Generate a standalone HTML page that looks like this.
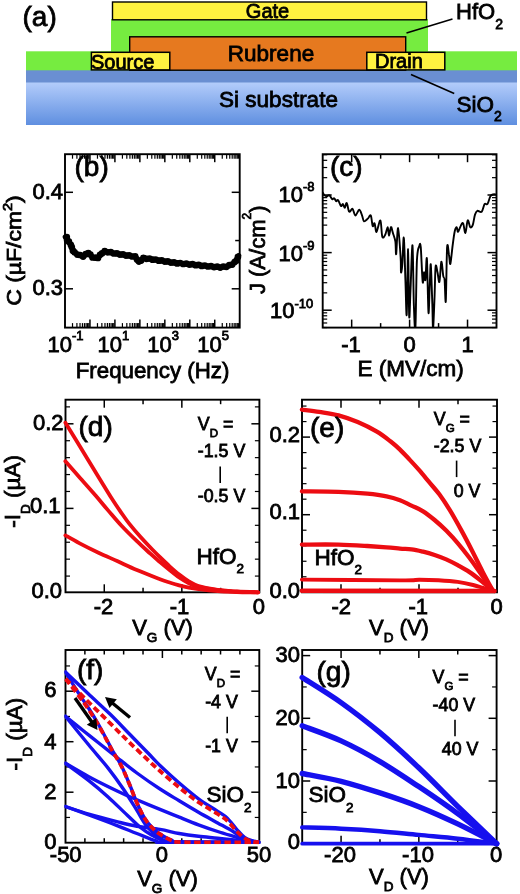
<!DOCTYPE html>
<html><head><meta charset="utf-8"><title>Figure</title>
<style>html,body{margin:0;padding:0;background:#fff}svg{display:block}text{stroke:#000;stroke-width:0.8px;font-family:'Liberation Sans', Arial, Helvetica, sans-serif}</style>
</head><body>
<svg width="520" height="894" viewBox="0 0 520 894">
<rect width="520" height="894" fill="#fff"/>
<defs><linearGradient id="si" x1="0" y1="0" x2="0" y2="1"><stop offset="0" stop-color="#b4cdfb"/><stop offset="1" stop-color="#5f8fe0"/></linearGradient></defs>
<rect x="26" y="82" width="491" height="43" fill="url(#si)"/>
<rect x="26" y="70" width="491" height="12.5" fill="#6a8fd2"/>
<rect x="26" y="51.3" width="491" height="19" fill="#76ec40"/>
<rect x="111" y="19" width="317" height="33" fill="#76ec40"/>
<rect x="129.7" y="36.8" width="276" height="33.4" fill="#e6791f" stroke="#000" stroke-width="1.4"/>
<rect x="112.5" y="2" width="314" height="17.8" fill="#fff240" stroke="#000" stroke-width="1.4"/>
<rect x="91.4" y="52.3" width="78.4" height="17.6" fill="#fff240" stroke="#000" stroke-width="1.5"/>
<rect x="366.8" y="52.3" width="78" height="17.6" fill="#fff240" stroke="#000" stroke-width="1.5"/>
<text transform="translate(22.50,26.00)" font-size="28" text-anchor="start" fill="#000" >(a)</text>
<text transform="translate(267.50,18.20)" font-size="20" text-anchor="middle" fill="#000" >Gate</text>
<text transform="translate(91.00,68.80)" font-size="20" text-anchor="start" fill="#000" >Source</text>
<text transform="translate(375.00,67.80)" font-size="20" text-anchor="start" fill="#000" >Drain</text>
<text transform="translate(271.00,60.80)" font-size="22.5" text-anchor="middle" fill="#000" >Rubrene</text>
<text transform="translate(278.50,106.80)" font-size="22.5" text-anchor="middle" fill="#000" >Si substrate</text>
<text transform="translate(456.00,19.00)" font-size="22" text-anchor="start" fill="#000" >HfO<tspan font-size="14" dy="9.5" >2</tspan></text>
<text transform="translate(456.50,111.50)" font-size="22.5" text-anchor="start" fill="#000" >SiO<tspan font-size="14" dy="9.5" >2</tspan></text>
<line x1="406.50" y1="33.00" x2="452.50" y2="19.00" stroke="#000" stroke-width="1.6" />
<line x1="411.00" y1="74.40" x2="454.20" y2="93.50" stroke="#000" stroke-width="1.6" />
<polyline points="65.3,237.0 67.8,240.6 70.7,244.2 73.5,252.0 77.8,254.5 83.0,256.3 88.5,252.7 92.7,257.4 97.4,258.4 101.0,253.8 104.5,251.3 113.4,253.1 124.0,254.9 135.4,256.7 139.0,262.0 143.6,258.0 156.0,259.9 173.9,262.7 191.7,264.5 209.5,266.3 220.0,267.3 227.3,266.3 232.6,264.1 236.2,260.9 238.7,255.6" fill="none" stroke="#000" stroke-width="5.2" stroke-linejoin="round" stroke-linecap="round" />
<circle cx="67.1" cy="239.9" r="3.35" fill="#000"/>
<circle cx="68.9" cy="241.7" r="3.35" fill="#000"/>
<circle cx="70.8" cy="244.8" r="3.35" fill="#000"/>
<circle cx="71.8" cy="247.0" r="3.35" fill="#000"/>
<circle cx="72.9" cy="250.7" r="3.35" fill="#000"/>
<circle cx="74.6" cy="252.3" r="3.35" fill="#000"/>
<circle cx="77.3" cy="254.6" r="3.35" fill="#000"/>
<circle cx="80.2" cy="255.0" r="3.35" fill="#000"/>
<circle cx="83.1" cy="256.6" r="3.35" fill="#000"/>
<circle cx="85.7" cy="254.2" r="3.35" fill="#000"/>
<circle cx="88.3" cy="253.2" r="3.35" fill="#000"/>
<circle cx="90.4" cy="254.5" r="3.35" fill="#000"/>
<circle cx="92.5" cy="257.5" r="3.35" fill="#000"/>
<circle cx="95.4" cy="257.6" r="3.35" fill="#000"/>
<circle cx="98.0" cy="257.9" r="3.35" fill="#000"/>
<circle cx="100.0" cy="254.8" r="3.35" fill="#000"/>
<circle cx="102.1" cy="253.3" r="3.35" fill="#000"/>
<circle cx="104.7" cy="251.0" r="3.35" fill="#000"/>
<circle cx="107.7" cy="252.3" r="3.35" fill="#000"/>
<circle cx="110.8" cy="252.2" r="3.35" fill="#000"/>
<circle cx="113.8" cy="253.5" r="3.35" fill="#000"/>
<circle cx="116.9" cy="253.3" r="3.35" fill="#000"/>
<circle cx="119.9" cy="254.6" r="3.35" fill="#000"/>
<circle cx="123.0" cy="254.4" r="3.35" fill="#000"/>
<circle cx="126.0" cy="255.6" r="3.35" fill="#000"/>
<circle cx="129.1" cy="255.4" r="3.35" fill="#000"/>
<circle cx="132.2" cy="256.5" r="3.35" fill="#000"/>
<circle cx="135.2" cy="256.3" r="3.35" fill="#000"/>
<circle cx="137.0" cy="259.5" r="3.35" fill="#000"/>
<circle cx="138.8" cy="261.3" r="3.35" fill="#000"/>
<circle cx="141.1" cy="260.6" r="3.35" fill="#000"/>
<circle cx="143.4" cy="257.8" r="3.35" fill="#000"/>
<circle cx="146.4" cy="258.8" r="3.35" fill="#000"/>
<circle cx="149.5" cy="258.5" r="3.35" fill="#000"/>
<circle cx="152.5" cy="259.7" r="3.35" fill="#000"/>
<circle cx="155.6" cy="259.5" r="3.35" fill="#000"/>
<circle cx="158.7" cy="260.7" r="3.35" fill="#000"/>
<circle cx="161.7" cy="260.4" r="3.35" fill="#000"/>
<circle cx="164.8" cy="261.6" r="3.35" fill="#000"/>
<circle cx="167.8" cy="261.4" r="3.35" fill="#000"/>
<circle cx="170.9" cy="262.6" r="3.35" fill="#000"/>
<circle cx="174.0" cy="262.4" r="3.35" fill="#000"/>
<circle cx="177.1" cy="263.4" r="3.35" fill="#000"/>
<circle cx="180.1" cy="263.0" r="3.35" fill="#000"/>
<circle cx="183.2" cy="264.0" r="3.35" fill="#000"/>
<circle cx="186.3" cy="263.6" r="3.35" fill="#000"/>
<circle cx="189.4" cy="264.6" r="3.35" fill="#000"/>
<circle cx="192.5" cy="264.2" r="3.35" fill="#000"/>
<circle cx="195.6" cy="265.2" r="3.35" fill="#000"/>
<circle cx="198.6" cy="264.9" r="3.35" fill="#000"/>
<circle cx="201.7" cy="265.9" r="3.35" fill="#000"/>
<circle cx="204.8" cy="265.5" r="3.35" fill="#000"/>
<circle cx="207.9" cy="266.5" r="3.35" fill="#000"/>
<circle cx="211.0" cy="266.1" r="3.35" fill="#000"/>
<circle cx="214.1" cy="267.1" r="3.35" fill="#000"/>
<circle cx="217.2" cy="266.7" r="3.35" fill="#000"/>
<circle cx="220.2" cy="267.6" r="3.35" fill="#000"/>
<circle cx="223.3" cy="266.5" r="3.35" fill="#000"/>
<circle cx="226.4" cy="266.8" r="3.35" fill="#000"/>
<circle cx="229.3" cy="265.1" r="3.35" fill="#000"/>
<circle cx="232.2" cy="264.6" r="3.35" fill="#000"/>
<circle cx="234.6" cy="262.0" r="3.35" fill="#000"/>
<circle cx="236.6" cy="260.4" r="3.35" fill="#000"/>
<circle cx="237.9" cy="256.9" r="3.35" fill="#000"/>
<circle cx="66.8" cy="237.0" r="3.35" fill="#000"/>
<rect x="65" y="154.2" width="174.7" height="173.40000000000003" fill="none" stroke="#000" stroke-width="1.9"/>
<line x1="89.96" y1="327.60" x2="89.96" y2="319.60" stroke="#000" stroke-width="1.5" />
<line x1="89.96" y1="154.20" x2="89.96" y2="162.20" stroke="#000" stroke-width="1.5" />
<line x1="114.91" y1="327.60" x2="114.91" y2="319.60" stroke="#000" stroke-width="1.5" />
<line x1="114.91" y1="154.20" x2="114.91" y2="162.20" stroke="#000" stroke-width="1.5" />
<line x1="139.87" y1="327.60" x2="139.87" y2="319.60" stroke="#000" stroke-width="1.5" />
<line x1="139.87" y1="154.20" x2="139.87" y2="162.20" stroke="#000" stroke-width="1.5" />
<line x1="164.83" y1="327.60" x2="164.83" y2="319.60" stroke="#000" stroke-width="1.5" />
<line x1="164.83" y1="154.20" x2="164.83" y2="162.20" stroke="#000" stroke-width="1.5" />
<line x1="189.79" y1="327.60" x2="189.79" y2="319.60" stroke="#000" stroke-width="1.5" />
<line x1="189.79" y1="154.20" x2="189.79" y2="162.20" stroke="#000" stroke-width="1.5" />
<line x1="214.74" y1="327.60" x2="214.74" y2="319.60" stroke="#000" stroke-width="1.5" />
<line x1="214.74" y1="154.20" x2="214.74" y2="162.20" stroke="#000" stroke-width="1.5" />
<line x1="72.51" y1="327.60" x2="72.51" y2="323.10" stroke="#000" stroke-width="1.2" />
<line x1="72.51" y1="154.20" x2="72.51" y2="158.70" stroke="#000" stroke-width="1.2" />
<line x1="76.91" y1="327.60" x2="76.91" y2="323.10" stroke="#000" stroke-width="1.2" />
<line x1="76.91" y1="154.20" x2="76.91" y2="158.70" stroke="#000" stroke-width="1.2" />
<line x1="80.03" y1="327.60" x2="80.03" y2="323.10" stroke="#000" stroke-width="1.2" />
<line x1="80.03" y1="154.20" x2="80.03" y2="158.70" stroke="#000" stroke-width="1.2" />
<line x1="82.44" y1="327.60" x2="82.44" y2="323.10" stroke="#000" stroke-width="1.2" />
<line x1="82.44" y1="154.20" x2="82.44" y2="158.70" stroke="#000" stroke-width="1.2" />
<line x1="84.42" y1="327.60" x2="84.42" y2="323.10" stroke="#000" stroke-width="1.2" />
<line x1="84.42" y1="154.20" x2="84.42" y2="158.70" stroke="#000" stroke-width="1.2" />
<line x1="86.09" y1="327.60" x2="86.09" y2="323.10" stroke="#000" stroke-width="1.2" />
<line x1="86.09" y1="154.20" x2="86.09" y2="158.70" stroke="#000" stroke-width="1.2" />
<line x1="87.54" y1="327.60" x2="87.54" y2="323.10" stroke="#000" stroke-width="1.2" />
<line x1="87.54" y1="154.20" x2="87.54" y2="158.70" stroke="#000" stroke-width="1.2" />
<line x1="88.82" y1="327.60" x2="88.82" y2="323.10" stroke="#000" stroke-width="1.2" />
<line x1="88.82" y1="154.20" x2="88.82" y2="158.70" stroke="#000" stroke-width="1.2" />
<line x1="97.47" y1="327.60" x2="97.47" y2="323.10" stroke="#000" stroke-width="1.2" />
<line x1="97.47" y1="154.20" x2="97.47" y2="158.70" stroke="#000" stroke-width="1.2" />
<line x1="101.86" y1="327.60" x2="101.86" y2="323.10" stroke="#000" stroke-width="1.2" />
<line x1="101.86" y1="154.20" x2="101.86" y2="158.70" stroke="#000" stroke-width="1.2" />
<line x1="104.98" y1="327.60" x2="104.98" y2="323.10" stroke="#000" stroke-width="1.2" />
<line x1="104.98" y1="154.20" x2="104.98" y2="158.70" stroke="#000" stroke-width="1.2" />
<line x1="107.40" y1="327.60" x2="107.40" y2="323.10" stroke="#000" stroke-width="1.2" />
<line x1="107.40" y1="154.20" x2="107.40" y2="158.70" stroke="#000" stroke-width="1.2" />
<line x1="109.38" y1="327.60" x2="109.38" y2="323.10" stroke="#000" stroke-width="1.2" />
<line x1="109.38" y1="154.20" x2="109.38" y2="158.70" stroke="#000" stroke-width="1.2" />
<line x1="111.05" y1="327.60" x2="111.05" y2="323.10" stroke="#000" stroke-width="1.2" />
<line x1="111.05" y1="154.20" x2="111.05" y2="158.70" stroke="#000" stroke-width="1.2" />
<line x1="112.50" y1="327.60" x2="112.50" y2="323.10" stroke="#000" stroke-width="1.2" />
<line x1="112.50" y1="154.20" x2="112.50" y2="158.70" stroke="#000" stroke-width="1.2" />
<line x1="113.77" y1="327.60" x2="113.77" y2="323.10" stroke="#000" stroke-width="1.2" />
<line x1="113.77" y1="154.20" x2="113.77" y2="158.70" stroke="#000" stroke-width="1.2" />
<line x1="122.43" y1="327.60" x2="122.43" y2="323.10" stroke="#000" stroke-width="1.2" />
<line x1="122.43" y1="154.20" x2="122.43" y2="158.70" stroke="#000" stroke-width="1.2" />
<line x1="126.82" y1="327.60" x2="126.82" y2="323.10" stroke="#000" stroke-width="1.2" />
<line x1="126.82" y1="154.20" x2="126.82" y2="158.70" stroke="#000" stroke-width="1.2" />
<line x1="129.94" y1="327.60" x2="129.94" y2="323.10" stroke="#000" stroke-width="1.2" />
<line x1="129.94" y1="154.20" x2="129.94" y2="158.70" stroke="#000" stroke-width="1.2" />
<line x1="132.36" y1="327.60" x2="132.36" y2="323.10" stroke="#000" stroke-width="1.2" />
<line x1="132.36" y1="154.20" x2="132.36" y2="158.70" stroke="#000" stroke-width="1.2" />
<line x1="134.33" y1="327.60" x2="134.33" y2="323.10" stroke="#000" stroke-width="1.2" />
<line x1="134.33" y1="154.20" x2="134.33" y2="158.70" stroke="#000" stroke-width="1.2" />
<line x1="136.01" y1="327.60" x2="136.01" y2="323.10" stroke="#000" stroke-width="1.2" />
<line x1="136.01" y1="154.20" x2="136.01" y2="158.70" stroke="#000" stroke-width="1.2" />
<line x1="137.45" y1="327.60" x2="137.45" y2="323.10" stroke="#000" stroke-width="1.2" />
<line x1="137.45" y1="154.20" x2="137.45" y2="158.70" stroke="#000" stroke-width="1.2" />
<line x1="138.73" y1="327.60" x2="138.73" y2="323.10" stroke="#000" stroke-width="1.2" />
<line x1="138.73" y1="154.20" x2="138.73" y2="158.70" stroke="#000" stroke-width="1.2" />
<line x1="147.38" y1="327.60" x2="147.38" y2="323.10" stroke="#000" stroke-width="1.2" />
<line x1="147.38" y1="154.20" x2="147.38" y2="158.70" stroke="#000" stroke-width="1.2" />
<line x1="151.78" y1="327.60" x2="151.78" y2="323.10" stroke="#000" stroke-width="1.2" />
<line x1="151.78" y1="154.20" x2="151.78" y2="158.70" stroke="#000" stroke-width="1.2" />
<line x1="154.90" y1="327.60" x2="154.90" y2="323.10" stroke="#000" stroke-width="1.2" />
<line x1="154.90" y1="154.20" x2="154.90" y2="158.70" stroke="#000" stroke-width="1.2" />
<line x1="157.32" y1="327.60" x2="157.32" y2="323.10" stroke="#000" stroke-width="1.2" />
<line x1="157.32" y1="154.20" x2="157.32" y2="158.70" stroke="#000" stroke-width="1.2" />
<line x1="159.29" y1="327.60" x2="159.29" y2="323.10" stroke="#000" stroke-width="1.2" />
<line x1="159.29" y1="154.20" x2="159.29" y2="158.70" stroke="#000" stroke-width="1.2" />
<line x1="160.96" y1="327.60" x2="160.96" y2="323.10" stroke="#000" stroke-width="1.2" />
<line x1="160.96" y1="154.20" x2="160.96" y2="158.70" stroke="#000" stroke-width="1.2" />
<line x1="162.41" y1="327.60" x2="162.41" y2="323.10" stroke="#000" stroke-width="1.2" />
<line x1="162.41" y1="154.20" x2="162.41" y2="158.70" stroke="#000" stroke-width="1.2" />
<line x1="163.69" y1="327.60" x2="163.69" y2="323.10" stroke="#000" stroke-width="1.2" />
<line x1="163.69" y1="154.20" x2="163.69" y2="158.70" stroke="#000" stroke-width="1.2" />
<line x1="172.34" y1="327.60" x2="172.34" y2="323.10" stroke="#000" stroke-width="1.2" />
<line x1="172.34" y1="154.20" x2="172.34" y2="158.70" stroke="#000" stroke-width="1.2" />
<line x1="176.74" y1="327.60" x2="176.74" y2="323.10" stroke="#000" stroke-width="1.2" />
<line x1="176.74" y1="154.20" x2="176.74" y2="158.70" stroke="#000" stroke-width="1.2" />
<line x1="179.85" y1="327.60" x2="179.85" y2="323.10" stroke="#000" stroke-width="1.2" />
<line x1="179.85" y1="154.20" x2="179.85" y2="158.70" stroke="#000" stroke-width="1.2" />
<line x1="182.27" y1="327.60" x2="182.27" y2="323.10" stroke="#000" stroke-width="1.2" />
<line x1="182.27" y1="154.20" x2="182.27" y2="158.70" stroke="#000" stroke-width="1.2" />
<line x1="184.25" y1="327.60" x2="184.25" y2="323.10" stroke="#000" stroke-width="1.2" />
<line x1="184.25" y1="154.20" x2="184.25" y2="158.70" stroke="#000" stroke-width="1.2" />
<line x1="185.92" y1="327.60" x2="185.92" y2="323.10" stroke="#000" stroke-width="1.2" />
<line x1="185.92" y1="154.20" x2="185.92" y2="158.70" stroke="#000" stroke-width="1.2" />
<line x1="187.37" y1="327.60" x2="187.37" y2="323.10" stroke="#000" stroke-width="1.2" />
<line x1="187.37" y1="154.20" x2="187.37" y2="158.70" stroke="#000" stroke-width="1.2" />
<line x1="188.64" y1="327.60" x2="188.64" y2="323.10" stroke="#000" stroke-width="1.2" />
<line x1="188.64" y1="154.20" x2="188.64" y2="158.70" stroke="#000" stroke-width="1.2" />
<line x1="197.30" y1="327.60" x2="197.30" y2="323.10" stroke="#000" stroke-width="1.2" />
<line x1="197.30" y1="154.20" x2="197.30" y2="158.70" stroke="#000" stroke-width="1.2" />
<line x1="201.69" y1="327.60" x2="201.69" y2="323.10" stroke="#000" stroke-width="1.2" />
<line x1="201.69" y1="154.20" x2="201.69" y2="158.70" stroke="#000" stroke-width="1.2" />
<line x1="204.81" y1="327.60" x2="204.81" y2="323.10" stroke="#000" stroke-width="1.2" />
<line x1="204.81" y1="154.20" x2="204.81" y2="158.70" stroke="#000" stroke-width="1.2" />
<line x1="207.23" y1="327.60" x2="207.23" y2="323.10" stroke="#000" stroke-width="1.2" />
<line x1="207.23" y1="154.20" x2="207.23" y2="158.70" stroke="#000" stroke-width="1.2" />
<line x1="209.21" y1="327.60" x2="209.21" y2="323.10" stroke="#000" stroke-width="1.2" />
<line x1="209.21" y1="154.20" x2="209.21" y2="158.70" stroke="#000" stroke-width="1.2" />
<line x1="210.88" y1="327.60" x2="210.88" y2="323.10" stroke="#000" stroke-width="1.2" />
<line x1="210.88" y1="154.20" x2="210.88" y2="158.70" stroke="#000" stroke-width="1.2" />
<line x1="212.32" y1="327.60" x2="212.32" y2="323.10" stroke="#000" stroke-width="1.2" />
<line x1="212.32" y1="154.20" x2="212.32" y2="158.70" stroke="#000" stroke-width="1.2" />
<line x1="213.60" y1="327.60" x2="213.60" y2="323.10" stroke="#000" stroke-width="1.2" />
<line x1="213.60" y1="154.20" x2="213.60" y2="158.70" stroke="#000" stroke-width="1.2" />
<line x1="222.26" y1="327.60" x2="222.26" y2="323.10" stroke="#000" stroke-width="1.2" />
<line x1="222.26" y1="154.20" x2="222.26" y2="158.70" stroke="#000" stroke-width="1.2" />
<line x1="226.65" y1="327.60" x2="226.65" y2="323.10" stroke="#000" stroke-width="1.2" />
<line x1="226.65" y1="154.20" x2="226.65" y2="158.70" stroke="#000" stroke-width="1.2" />
<line x1="229.77" y1="327.60" x2="229.77" y2="323.10" stroke="#000" stroke-width="1.2" />
<line x1="229.77" y1="154.20" x2="229.77" y2="158.70" stroke="#000" stroke-width="1.2" />
<line x1="232.19" y1="327.60" x2="232.19" y2="323.10" stroke="#000" stroke-width="1.2" />
<line x1="232.19" y1="154.20" x2="232.19" y2="158.70" stroke="#000" stroke-width="1.2" />
<line x1="234.16" y1="327.60" x2="234.16" y2="323.10" stroke="#000" stroke-width="1.2" />
<line x1="234.16" y1="154.20" x2="234.16" y2="158.70" stroke="#000" stroke-width="1.2" />
<line x1="235.83" y1="327.60" x2="235.83" y2="323.10" stroke="#000" stroke-width="1.2" />
<line x1="235.83" y1="154.20" x2="235.83" y2="158.70" stroke="#000" stroke-width="1.2" />
<line x1="237.28" y1="327.60" x2="237.28" y2="323.10" stroke="#000" stroke-width="1.2" />
<line x1="237.28" y1="154.20" x2="237.28" y2="158.70" stroke="#000" stroke-width="1.2" />
<line x1="238.56" y1="327.60" x2="238.56" y2="323.10" stroke="#000" stroke-width="1.2" />
<line x1="238.56" y1="154.20" x2="238.56" y2="158.70" stroke="#000" stroke-width="1.2" />
<line x1="65.00" y1="192.30" x2="73.00" y2="192.30" stroke="#000" stroke-width="1.5" />
<line x1="239.70" y1="192.30" x2="231.70" y2="192.30" stroke="#000" stroke-width="1.5" />
<line x1="65.00" y1="288.80" x2="73.00" y2="288.80" stroke="#000" stroke-width="1.5" />
<line x1="239.70" y1="288.80" x2="231.70" y2="288.80" stroke="#000" stroke-width="1.5" />
<line x1="65.00" y1="240.55" x2="69.50" y2="240.55" stroke="#000" stroke-width="1.5" />
<line x1="239.70" y1="240.55" x2="235.20" y2="240.55" stroke="#000" stroke-width="1.5" />
<text transform="translate(63.00,198.80)" font-size="22" text-anchor="end" fill="#000" >0.4</text>
<text transform="translate(63.00,295.30)" font-size="22" text-anchor="end" fill="#000" >0.3</text>
<text transform="translate(47.50,351.60)" font-size="22" text-anchor="start" fill="#000" >10<tspan font-size="13" dy="-12">-1</tspan></text>
<text transform="translate(97.41,351.60)" font-size="22" text-anchor="start" fill="#000" >10<tspan font-size="13" dy="-12">1</tspan></text>
<text transform="translate(147.33,351.60)" font-size="22" text-anchor="start" fill="#000" >10<tspan font-size="13" dy="-12">3</tspan></text>
<text transform="translate(197.24,351.60)" font-size="22" text-anchor="start" fill="#000" >10<tspan font-size="13" dy="-12">5</tspan></text>
<text transform="translate(152.50,378.20)" font-size="22.3" text-anchor="middle" fill="#000" >Frequency (Hz)</text>
<text transform="translate(20.60,250.50) rotate(-90) scale(1.12,1)" font-size="20.5" text-anchor="middle" fill="#000" >C (µF/cm<tspan font-size="13" dy="-9">2</tspan><tspan font-size="20.5" dy="9">)</tspan></text>
<text transform="translate(74.50,175.50)" font-size="28" text-anchor="start" fill="#000" >(b)</text>
<clipPath id="cc"><rect x="322.7" y="154.2" width="173.8" height="173.40000000000003"/></clipPath>
<path d="M322.7,192.5 C323.0,193.0 324.0,194.7 324.6,195.4 C325.3,196.0 325.7,196.3 326.5,196.3 C327.3,196.3 328.5,194.9 329.4,195.4 C330.4,195.9 331.5,198.8 332.3,199.2 C333.1,199.7 333.6,197.9 334.2,198.3 C334.9,198.6 335.5,200.8 336.2,201.2 C336.8,201.5 337.3,199.4 338.1,200.2 C338.9,201.0 340.2,205.3 341.0,206.0 C341.8,206.6 342.2,203.7 342.9,204.0 C343.5,204.4 344.2,208.0 344.8,207.9 C345.4,207.7 346.0,202.4 346.7,203.1 C347.5,203.7 348.3,210.8 349.2,211.7 C350.2,212.7 351.5,208.2 352.5,208.8 C353.5,209.5 354.3,215.4 355.4,215.6 C356.5,215.7 358.1,209.8 359.2,209.8 C360.4,209.8 361.3,213.7 362.1,215.6 C362.9,217.5 363.1,220.9 364.0,221.3 C365.0,221.8 366.8,219.4 367.9,218.5 C369.0,217.5 370.0,214.3 370.8,215.6 C371.6,216.9 372.1,224.9 372.7,226.2 C373.3,227.4 374.0,222.3 374.6,223.3 C375.3,224.2 375.6,232.4 376.5,231.9 C377.5,231.4 379.4,219.6 380.4,220.4 C381.3,221.2 381.5,234.3 382.3,236.7 C383.1,239.1 384.3,236.4 385.2,234.8 C386.1,233.2 387.1,227.0 387.7,227.1 C388.3,227.3 388.5,235.8 389.0,235.8 C389.6,235.8 390.3,227.6 391.0,227.1 C391.6,226.6 392.1,230.5 392.9,232.9 C393.6,235.3 394.8,238.0 395.4,241.5 C395.9,245.1 395.7,256.3 396.2,254.0 C396.6,251.8 397.3,227.6 398.1,228.1 C398.8,228.6 400.1,249.6 400.6,256.9 C401.1,264.3 400.7,271.0 401.0,272.3 C401.2,273.6 401.8,270.4 402.3,264.6 C402.8,258.8 403.3,235.1 403.8,237.7 C404.4,240.3 404.9,267.2 405.4,280.0 C405.9,292.8 406.3,319.7 406.7,314.6 C407.2,309.5 407.7,248.9 408.1,249.2 C408.5,249.6 408.8,310.1 409.2,316.5 C409.6,322.9 410.0,299.6 410.6,287.7 C411.1,275.8 412.0,242.8 412.5,245.4 C413.0,247.9 413.4,289.3 413.8,303.1 C414.3,316.9 414.9,335.1 415.4,328.1 C415.9,321.0 416.3,274.4 416.9,260.8 C417.6,247.1 418.6,248.6 419.2,246.3 C419.9,244.1 420.2,241.4 420.8,247.3 C421.3,253.2 422.1,277.8 422.7,281.9 C423.2,286.1 423.6,272.6 424.0,272.3 C424.5,272.0 424.9,282.2 425.4,280.0 C425.9,277.8 426.4,253.4 426.9,258.8 C427.4,264.3 428.0,308.5 428.5,312.7 C428.9,316.9 429.4,291.9 429.8,283.8 C430.2,275.8 430.4,261.4 430.8,264.6 C431.2,267.8 431.9,292.5 432.3,303.1 C432.7,313.7 432.7,329.4 433.1,328.1 C433.5,326.8 434.2,305.6 434.6,295.4 C435.0,285.1 435.1,270.4 435.6,266.5 C436.1,262.7 436.9,269.7 437.5,272.3 C438.1,274.9 438.8,283.7 439.4,281.9 C440.1,280.2 440.7,262.7 441.3,261.7 C442.0,260.8 442.7,273.1 443.3,276.2 C443.8,279.2 444.2,275.8 444.6,280.0 C445.0,284.2 445.4,306.6 445.8,301.2 C446.2,295.7 446.6,255.0 447.1,247.3 C447.7,239.6 448.5,252.3 449.0,255.0 C449.6,257.7 449.7,265.6 450.4,263.7 C451.0,261.7 452.1,248.9 452.9,243.5 C453.6,238.0 454.2,233.7 454.8,231.0 C455.4,228.2 456.2,227.0 456.7,227.1 C457.3,227.3 457.4,232.1 458.1,231.9 C458.7,231.8 459.7,227.6 460.6,226.2 C461.4,224.7 462.3,222.1 463.1,223.3 C463.9,224.4 464.6,233.4 465.4,232.9 C466.2,232.4 466.9,221.3 467.7,220.4 C468.5,219.4 469.4,226.3 470.2,227.1 C471.0,227.9 471.9,227.3 472.7,225.2 C473.5,223.1 474.2,217.0 475.0,214.6 C475.8,212.2 476.2,211.2 477.3,210.8 C478.4,210.3 480.5,212.9 481.7,211.7 C482.9,210.6 483.7,205.3 484.6,204.0 C485.6,202.8 486.5,205.3 487.5,204.0 C488.5,202.8 489.4,197.9 490.4,196.3 C491.3,194.7 492.4,194.7 493.3,194.4 C494.1,194.1 495.2,194.4 495.6,194.4" fill="none" stroke="#000" stroke-width="1.9" stroke-linejoin="round" stroke-linecap="round" clip-path="url(#cc)"/>
<rect x="322.7" y="154.2" width="173.8" height="173.40000000000003" fill="none" stroke="#000" stroke-width="1.9"/>
<line x1="351.67" y1="327.60" x2="351.67" y2="319.60" stroke="#000" stroke-width="1.5" />
<line x1="351.67" y1="154.20" x2="351.67" y2="162.20" stroke="#000" stroke-width="1.5" />
<line x1="409.60" y1="327.60" x2="409.60" y2="319.60" stroke="#000" stroke-width="1.5" />
<line x1="409.60" y1="154.20" x2="409.60" y2="162.20" stroke="#000" stroke-width="1.5" />
<line x1="467.53" y1="327.60" x2="467.53" y2="319.60" stroke="#000" stroke-width="1.5" />
<line x1="467.53" y1="154.20" x2="467.53" y2="162.20" stroke="#000" stroke-width="1.5" />
<line x1="380.63" y1="327.60" x2="380.63" y2="323.10" stroke="#000" stroke-width="1.5" />
<line x1="380.63" y1="154.20" x2="380.63" y2="158.70" stroke="#000" stroke-width="1.5" />
<line x1="438.57" y1="327.60" x2="438.57" y2="323.10" stroke="#000" stroke-width="1.5" />
<line x1="438.57" y1="154.20" x2="438.57" y2="158.70" stroke="#000" stroke-width="1.5" />
<line x1="322.70" y1="195.00" x2="331.70" y2="195.00" stroke="#000" stroke-width="1.5" />
<line x1="496.50" y1="195.00" x2="487.50" y2="195.00" stroke="#000" stroke-width="1.5" />
<line x1="322.70" y1="252.60" x2="331.70" y2="252.60" stroke="#000" stroke-width="1.5" />
<line x1="496.50" y1="252.60" x2="487.50" y2="252.60" stroke="#000" stroke-width="1.5" />
<line x1="322.70" y1="310.20" x2="331.70" y2="310.20" stroke="#000" stroke-width="1.5" />
<line x1="496.50" y1="310.20" x2="487.50" y2="310.20" stroke="#000" stroke-width="1.5" />
<line x1="322.70" y1="177.66" x2="327.20" y2="177.66" stroke="#000" stroke-width="1.2" />
<line x1="496.50" y1="177.66" x2="492.00" y2="177.66" stroke="#000" stroke-width="1.2" />
<line x1="322.70" y1="167.52" x2="327.20" y2="167.52" stroke="#000" stroke-width="1.2" />
<line x1="496.50" y1="167.52" x2="492.00" y2="167.52" stroke="#000" stroke-width="1.2" />
<line x1="322.70" y1="160.32" x2="327.20" y2="160.32" stroke="#000" stroke-width="1.2" />
<line x1="496.50" y1="160.32" x2="492.00" y2="160.32" stroke="#000" stroke-width="1.2" />
<line x1="322.70" y1="154.74" x2="327.20" y2="154.74" stroke="#000" stroke-width="1.2" />
<line x1="496.50" y1="154.74" x2="492.00" y2="154.74" stroke="#000" stroke-width="1.2" />
<line x1="322.70" y1="235.26" x2="327.20" y2="235.26" stroke="#000" stroke-width="1.2" />
<line x1="496.50" y1="235.26" x2="492.00" y2="235.26" stroke="#000" stroke-width="1.2" />
<line x1="322.70" y1="225.12" x2="327.20" y2="225.12" stroke="#000" stroke-width="1.2" />
<line x1="496.50" y1="225.12" x2="492.00" y2="225.12" stroke="#000" stroke-width="1.2" />
<line x1="322.70" y1="217.92" x2="327.20" y2="217.92" stroke="#000" stroke-width="1.2" />
<line x1="496.50" y1="217.92" x2="492.00" y2="217.92" stroke="#000" stroke-width="1.2" />
<line x1="322.70" y1="212.34" x2="327.20" y2="212.34" stroke="#000" stroke-width="1.2" />
<line x1="496.50" y1="212.34" x2="492.00" y2="212.34" stroke="#000" stroke-width="1.2" />
<line x1="322.70" y1="207.78" x2="327.20" y2="207.78" stroke="#000" stroke-width="1.2" />
<line x1="496.50" y1="207.78" x2="492.00" y2="207.78" stroke="#000" stroke-width="1.2" />
<line x1="322.70" y1="203.92" x2="327.20" y2="203.92" stroke="#000" stroke-width="1.2" />
<line x1="496.50" y1="203.92" x2="492.00" y2="203.92" stroke="#000" stroke-width="1.2" />
<line x1="322.70" y1="200.58" x2="327.20" y2="200.58" stroke="#000" stroke-width="1.2" />
<line x1="496.50" y1="200.58" x2="492.00" y2="200.58" stroke="#000" stroke-width="1.2" />
<line x1="322.70" y1="197.64" x2="327.20" y2="197.64" stroke="#000" stroke-width="1.2" />
<line x1="496.50" y1="197.64" x2="492.00" y2="197.64" stroke="#000" stroke-width="1.2" />
<line x1="322.70" y1="292.86" x2="327.20" y2="292.86" stroke="#000" stroke-width="1.2" />
<line x1="496.50" y1="292.86" x2="492.00" y2="292.86" stroke="#000" stroke-width="1.2" />
<line x1="322.70" y1="282.72" x2="327.20" y2="282.72" stroke="#000" stroke-width="1.2" />
<line x1="496.50" y1="282.72" x2="492.00" y2="282.72" stroke="#000" stroke-width="1.2" />
<line x1="322.70" y1="275.52" x2="327.20" y2="275.52" stroke="#000" stroke-width="1.2" />
<line x1="496.50" y1="275.52" x2="492.00" y2="275.52" stroke="#000" stroke-width="1.2" />
<line x1="322.70" y1="269.94" x2="327.20" y2="269.94" stroke="#000" stroke-width="1.2" />
<line x1="496.50" y1="269.94" x2="492.00" y2="269.94" stroke="#000" stroke-width="1.2" />
<line x1="322.70" y1="265.38" x2="327.20" y2="265.38" stroke="#000" stroke-width="1.2" />
<line x1="496.50" y1="265.38" x2="492.00" y2="265.38" stroke="#000" stroke-width="1.2" />
<line x1="322.70" y1="261.52" x2="327.20" y2="261.52" stroke="#000" stroke-width="1.2" />
<line x1="496.50" y1="261.52" x2="492.00" y2="261.52" stroke="#000" stroke-width="1.2" />
<line x1="322.70" y1="258.18" x2="327.20" y2="258.18" stroke="#000" stroke-width="1.2" />
<line x1="496.50" y1="258.18" x2="492.00" y2="258.18" stroke="#000" stroke-width="1.2" />
<line x1="322.70" y1="255.24" x2="327.20" y2="255.24" stroke="#000" stroke-width="1.2" />
<line x1="496.50" y1="255.24" x2="492.00" y2="255.24" stroke="#000" stroke-width="1.2" />
<line x1="322.70" y1="327.54" x2="327.20" y2="327.54" stroke="#000" stroke-width="1.2" />
<line x1="496.50" y1="327.54" x2="492.00" y2="327.54" stroke="#000" stroke-width="1.2" />
<line x1="322.70" y1="322.98" x2="327.20" y2="322.98" stroke="#000" stroke-width="1.2" />
<line x1="496.50" y1="322.98" x2="492.00" y2="322.98" stroke="#000" stroke-width="1.2" />
<line x1="322.70" y1="319.12" x2="327.20" y2="319.12" stroke="#000" stroke-width="1.2" />
<line x1="496.50" y1="319.12" x2="492.00" y2="319.12" stroke="#000" stroke-width="1.2" />
<line x1="322.70" y1="315.78" x2="327.20" y2="315.78" stroke="#000" stroke-width="1.2" />
<line x1="496.50" y1="315.78" x2="492.00" y2="315.78" stroke="#000" stroke-width="1.2" />
<line x1="322.70" y1="312.84" x2="327.20" y2="312.84" stroke="#000" stroke-width="1.2" />
<line x1="496.50" y1="312.84" x2="492.00" y2="312.84" stroke="#000" stroke-width="1.2" />
<text transform="translate(278.50,201.70)" font-size="22" text-anchor="start" fill="#000" >10<tspan font-size="13" dy="-10.5">-8</tspan></text>
<text transform="translate(278.50,260.50)" font-size="22" text-anchor="start" fill="#000" >10<tspan font-size="13" dy="-10.5">-9</tspan></text>
<text transform="translate(270.00,318.10)" font-size="22" text-anchor="start" fill="#000" >10<tspan font-size="13" dy="-10.5">-10</tspan></text>
<text transform="translate(351.00,351.50)" font-size="22" text-anchor="middle" fill="#000" >-1</text>
<text transform="translate(409.70,351.50)" font-size="22" text-anchor="middle" fill="#000" >0</text>
<text transform="translate(467.50,351.50)" font-size="22" text-anchor="middle" fill="#000" >1</text>
<text transform="translate(410.60,376.40)" font-size="22.5" text-anchor="middle" fill="#000" >E (MV/cm)</text>
<text transform="translate(264.80,249.80) rotate(-90)" font-size="22" text-anchor="middle" fill="#000" >J (A/cm<tspan font-size="12" dy="-13.5">2</tspan><tspan font-size="22" dy="13.5">)</tspan></text>
<text transform="translate(330.00,175.50)" font-size="28" text-anchor="start" fill="#000" >(c)</text>
<rect x="65.5" y="399.7" width="193.89999999999998" height="192.59999999999997" fill="none" stroke="#000" stroke-width="1.9"/>
<line x1="104.28" y1="592.30" x2="104.28" y2="584.30" stroke="#000" stroke-width="1.5" />
<line x1="104.28" y1="399.70" x2="104.28" y2="407.70" stroke="#000" stroke-width="1.5" />
<line x1="181.84" y1="592.30" x2="181.84" y2="584.30" stroke="#000" stroke-width="1.5" />
<line x1="181.84" y1="399.70" x2="181.84" y2="407.70" stroke="#000" stroke-width="1.5" />
<line x1="143.06" y1="592.30" x2="143.06" y2="587.80" stroke="#000" stroke-width="1.5" />
<line x1="143.06" y1="399.70" x2="143.06" y2="404.20" stroke="#000" stroke-width="1.5" />
<line x1="220.62" y1="592.30" x2="220.62" y2="587.80" stroke="#000" stroke-width="1.5" />
<line x1="220.62" y1="399.70" x2="220.62" y2="404.20" stroke="#000" stroke-width="1.5" />
<line x1="65.50" y1="508.40" x2="73.50" y2="508.40" stroke="#000" stroke-width="1.5" />
<line x1="259.40" y1="508.40" x2="251.40" y2="508.40" stroke="#000" stroke-width="1.5" />
<line x1="65.50" y1="423.80" x2="73.50" y2="423.80" stroke="#000" stroke-width="1.5" />
<line x1="259.40" y1="423.80" x2="251.40" y2="423.80" stroke="#000" stroke-width="1.5" />
<line x1="65.50" y1="576.08" x2="70.00" y2="576.08" stroke="#000" stroke-width="1.2" />
<line x1="259.40" y1="576.08" x2="254.90" y2="576.08" stroke="#000" stroke-width="1.2" />
<line x1="65.50" y1="559.16" x2="70.00" y2="559.16" stroke="#000" stroke-width="1.2" />
<line x1="259.40" y1="559.16" x2="254.90" y2="559.16" stroke="#000" stroke-width="1.2" />
<line x1="65.50" y1="542.24" x2="70.00" y2="542.24" stroke="#000" stroke-width="1.2" />
<line x1="259.40" y1="542.24" x2="254.90" y2="542.24" stroke="#000" stroke-width="1.2" />
<line x1="65.50" y1="525.32" x2="70.00" y2="525.32" stroke="#000" stroke-width="1.2" />
<line x1="259.40" y1="525.32" x2="254.90" y2="525.32" stroke="#000" stroke-width="1.2" />
<line x1="65.50" y1="491.48" x2="70.00" y2="491.48" stroke="#000" stroke-width="1.2" />
<line x1="259.40" y1="491.48" x2="254.90" y2="491.48" stroke="#000" stroke-width="1.2" />
<line x1="65.50" y1="474.56" x2="70.00" y2="474.56" stroke="#000" stroke-width="1.2" />
<line x1="259.40" y1="474.56" x2="254.90" y2="474.56" stroke="#000" stroke-width="1.2" />
<line x1="65.50" y1="457.64" x2="70.00" y2="457.64" stroke="#000" stroke-width="1.2" />
<line x1="259.40" y1="457.64" x2="254.90" y2="457.64" stroke="#000" stroke-width="1.2" />
<line x1="65.50" y1="440.72" x2="70.00" y2="440.72" stroke="#000" stroke-width="1.2" />
<line x1="259.40" y1="440.72" x2="254.90" y2="440.72" stroke="#000" stroke-width="1.2" />
<line x1="65.50" y1="406.88" x2="70.00" y2="406.88" stroke="#000" stroke-width="1.2" />
<line x1="259.40" y1="406.88" x2="254.90" y2="406.88" stroke="#000" stroke-width="1.2" />
<path d="M65.4,422.7 C67.7,426.5 73.7,436.2 79.2,445.3 C84.7,454.4 93.2,468.4 98.5,477.0 C103.8,485.6 107.2,491.4 110.8,497.0 C114.4,502.6 116.9,506.4 120.0,510.8 C123.1,515.2 125.7,519.2 129.2,523.6 C132.7,528.0 137.0,533.0 140.8,537.3 C144.7,541.6 149.1,546.2 152.3,549.5 C155.5,552.8 157.1,554.4 160.0,557.2 C162.9,560.0 166.4,563.4 169.6,566.3 C172.8,569.2 176.0,572.1 179.2,574.6 C182.4,577.1 185.6,579.5 188.8,581.4 C192.0,583.3 193.7,584.6 198.5,586.0 C203.3,587.4 211.3,589.1 217.7,590.0 C224.1,590.9 230.2,591.1 236.9,591.5 C243.6,591.9 254.5,592.2 258.0,592.3" fill="none" stroke="#ec0c12" stroke-width="3.8" stroke-linejoin="round" stroke-linecap="round" />
<path d="M65.4,461.2 C67.7,463.8 74.2,471.2 79.2,476.9 C84.2,482.6 90.8,489.9 95.6,495.5 C100.4,501.1 103.8,505.3 108.1,510.4 C112.4,515.4 116.7,520.7 121.5,525.8 C126.3,530.9 132.1,536.6 136.9,541.2 C141.7,545.9 146.6,550.2 150.4,553.7 C154.2,557.2 156.8,559.3 160.0,562.0 C163.2,564.7 166.4,567.4 169.6,570.0 C172.8,572.6 176.0,575.3 179.2,577.5 C182.4,579.7 185.6,581.7 188.8,583.2 C192.0,584.8 193.7,585.6 198.5,586.8 C203.3,588.0 211.3,589.4 217.7,590.2 C224.1,591.0 230.2,591.2 236.9,591.6 C243.6,592.0 254.5,592.2 258.0,592.3" fill="none" stroke="#ec0c12" stroke-width="3.8" stroke-linejoin="round" stroke-linecap="round" />
<path d="M65.4,535.4 C67.7,536.7 73.7,540.2 79.2,543.1 C84.7,546.0 92.1,549.7 98.5,552.7 C104.9,555.7 111.3,558.4 117.7,561.3 C124.1,564.2 129.8,567.0 136.9,570.0 C144.0,573.0 154.6,577.1 160.0,579.2 C165.4,581.3 166.4,581.5 169.6,582.5 C172.8,583.5 176.0,584.5 179.2,585.4 C182.4,586.3 185.6,587.1 188.8,587.7 C192.0,588.3 193.7,588.6 198.5,589.2 C203.3,589.8 211.3,590.7 217.7,591.2 C224.1,591.7 230.2,591.8 236.9,592.0 C243.6,592.2 254.5,592.3 258.0,592.4" fill="none" stroke="#ec0c12" stroke-width="3.8" stroke-linejoin="round" stroke-linecap="round" />
<text transform="translate(63.50,430.00)" font-size="22" text-anchor="end" fill="#000" >0.2</text>
<text transform="translate(60.50,513.30)" font-size="22" text-anchor="end" fill="#000" >0.1</text>
<text transform="translate(62.00,597.80)" font-size="22" text-anchor="end" fill="#000" >0.0</text>
<text transform="translate(103.50,613.80)" font-size="22" text-anchor="middle" fill="#000" >-2</text>
<text transform="translate(179.50,613.80)" font-size="22" text-anchor="middle" fill="#000" >-1</text>
<text transform="translate(258.80,613.80)" font-size="22" text-anchor="middle" fill="#000" >0</text>
<text transform="translate(162.50,635.00)" font-size="22" text-anchor="middle" fill="#000" >V<tspan font-size="13.5" dy="7" >G</tspan><tspan font-size="22" dy="-7"> (V)</tspan></text>
<text transform="translate(20.40,491.30) rotate(-90)" font-size="22.5" text-anchor="middle" fill="#000" >-I<tspan font-size="13.5" dy="10" >D</tspan><tspan font-size="22.5" dy="-10"> (µA)</tspan></text>
<text transform="translate(78.50,436.00)" font-size="28" text-anchor="start" fill="#000" >(d)</text>
<text transform="translate(197.80,429.80)" font-size="17.8" text-anchor="start" fill="#000" >V<tspan font-size="11.5" dy="7.5" >D</tspan><tspan font-size="17.8" dy="-7.5"> =</tspan></text>
<text transform="translate(197.80,457.40)" font-size="17.8" text-anchor="start" fill="#000" >-1.5 V</text>
<line x1="220.20" y1="466.40" x2="220.20" y2="482.90" stroke="#000" stroke-width="1.6" />
<text transform="translate(197.80,501.80)" font-size="17.8" text-anchor="start" fill="#000" >-0.5 V</text>
<text transform="translate(196.50,564.00)" font-size="22.5" text-anchor="start" fill="#000" >HfO<tspan font-size="13.5" dy="9" >2</tspan></text>
<rect x="302" y="399.7" width="195" height="192.59999999999997" fill="none" stroke="#000" stroke-width="1.9"/>
<line x1="341.00" y1="592.30" x2="341.00" y2="584.30" stroke="#000" stroke-width="1.5" />
<line x1="341.00" y1="399.70" x2="341.00" y2="407.70" stroke="#000" stroke-width="1.5" />
<line x1="419.00" y1="592.30" x2="419.00" y2="584.30" stroke="#000" stroke-width="1.5" />
<line x1="419.00" y1="399.70" x2="419.00" y2="407.70" stroke="#000" stroke-width="1.5" />
<line x1="380.00" y1="592.30" x2="380.00" y2="587.80" stroke="#000" stroke-width="1.5" />
<line x1="380.00" y1="399.70" x2="380.00" y2="404.20" stroke="#000" stroke-width="1.5" />
<line x1="458.00" y1="592.30" x2="458.00" y2="587.80" stroke="#000" stroke-width="1.5" />
<line x1="458.00" y1="399.70" x2="458.00" y2="404.20" stroke="#000" stroke-width="1.5" />
<line x1="302.00" y1="514.70" x2="310.00" y2="514.70" stroke="#000" stroke-width="1.5" />
<line x1="497.00" y1="514.70" x2="489.00" y2="514.70" stroke="#000" stroke-width="1.5" />
<line x1="302.00" y1="437.10" x2="310.00" y2="437.10" stroke="#000" stroke-width="1.5" />
<line x1="497.00" y1="437.10" x2="489.00" y2="437.10" stroke="#000" stroke-width="1.5" />
<line x1="302.00" y1="576.78" x2="306.50" y2="576.78" stroke="#000" stroke-width="1.2" />
<line x1="497.00" y1="576.78" x2="492.50" y2="576.78" stroke="#000" stroke-width="1.2" />
<line x1="302.00" y1="561.26" x2="306.50" y2="561.26" stroke="#000" stroke-width="1.2" />
<line x1="497.00" y1="561.26" x2="492.50" y2="561.26" stroke="#000" stroke-width="1.2" />
<line x1="302.00" y1="545.74" x2="306.50" y2="545.74" stroke="#000" stroke-width="1.2" />
<line x1="497.00" y1="545.74" x2="492.50" y2="545.74" stroke="#000" stroke-width="1.2" />
<line x1="302.00" y1="530.22" x2="306.50" y2="530.22" stroke="#000" stroke-width="1.2" />
<line x1="497.00" y1="530.22" x2="492.50" y2="530.22" stroke="#000" stroke-width="1.2" />
<line x1="302.00" y1="499.18" x2="306.50" y2="499.18" stroke="#000" stroke-width="1.2" />
<line x1="497.00" y1="499.18" x2="492.50" y2="499.18" stroke="#000" stroke-width="1.2" />
<line x1="302.00" y1="483.66" x2="306.50" y2="483.66" stroke="#000" stroke-width="1.2" />
<line x1="497.00" y1="483.66" x2="492.50" y2="483.66" stroke="#000" stroke-width="1.2" />
<line x1="302.00" y1="468.14" x2="306.50" y2="468.14" stroke="#000" stroke-width="1.2" />
<line x1="497.00" y1="468.14" x2="492.50" y2="468.14" stroke="#000" stroke-width="1.2" />
<line x1="302.00" y1="452.62" x2="306.50" y2="452.62" stroke="#000" stroke-width="1.2" />
<line x1="497.00" y1="452.62" x2="492.50" y2="452.62" stroke="#000" stroke-width="1.2" />
<line x1="302.00" y1="421.58" x2="306.50" y2="421.58" stroke="#000" stroke-width="1.2" />
<line x1="497.00" y1="421.58" x2="492.50" y2="421.58" stroke="#000" stroke-width="1.2" />
<line x1="302.00" y1="406.06" x2="306.50" y2="406.06" stroke="#000" stroke-width="1.2" />
<line x1="497.00" y1="406.06" x2="492.50" y2="406.06" stroke="#000" stroke-width="1.2" />
<path d="M301.9,409.6 C304.8,410.0 313.1,410.9 319.2,411.9 C325.3,412.9 332.1,413.7 338.5,415.4 C344.9,417.1 351.3,419.4 357.7,422.1 C364.1,424.8 371.4,428.5 376.9,431.7 C382.3,434.9 386.5,438.3 390.4,441.3 C394.2,444.3 396.8,446.6 400.0,449.6 C403.2,452.7 406.4,456.2 409.6,459.6 C412.8,463.0 416.0,466.5 419.2,470.2 C422.4,473.9 425.4,477.6 428.8,481.7 C432.2,485.8 436.0,489.8 439.5,494.6 C443.0,499.4 446.3,504.4 450.0,510.4 C453.7,516.4 457.6,523.5 461.5,530.6 C465.4,537.7 469.6,545.8 473.1,552.7 C476.6,559.6 479.4,565.6 482.7,571.9 C486.0,578.2 491.1,587.5 492.8,590.6" fill="none" stroke="#ec0c12" stroke-width="4.3" stroke-linejoin="round" stroke-linecap="round" />
<path d="M301.9,491.3 C308.0,491.4 327.6,491.4 338.5,491.8 C349.4,492.2 359.3,492.9 367.3,493.7 C375.3,494.5 381.1,495.3 386.5,496.4 C391.9,497.5 395.8,498.7 400.0,500.2 C404.2,501.7 407.6,503.8 411.5,505.6 C415.4,507.5 419.2,508.9 423.1,511.3 C427.0,513.7 430.8,516.8 434.6,520.0 C438.5,523.2 442.4,526.8 446.2,530.6 C450.0,534.5 453.9,538.6 457.7,543.1 C461.5,547.6 465.3,552.4 469.2,557.5 C473.1,562.6 476.9,568.3 480.8,573.8 C484.7,579.3 490.8,587.8 492.8,590.6" fill="none" stroke="#ec0c12" stroke-width="4.3" stroke-linejoin="round" stroke-linecap="round" />
<path d="M301.9,544.6 C308.0,544.6 327.6,544.4 338.5,544.6 C349.4,544.8 359.3,545.5 367.3,546.0 C375.3,546.5 381.1,546.9 386.5,547.3 C391.9,547.7 395.8,548.2 400.0,548.6 C404.2,549.0 407.6,548.9 411.5,549.4 C415.4,549.9 419.2,550.8 423.1,551.7 C427.0,552.6 430.8,553.7 434.6,555.0 C438.5,556.3 442.4,557.7 446.2,559.4 C450.0,561.1 453.9,563.1 457.7,565.2 C461.5,567.3 465.3,569.3 469.2,571.9 C473.1,574.5 476.9,577.5 480.8,580.6 C484.7,583.7 490.8,588.9 492.8,590.6" fill="none" stroke="#ec0c12" stroke-width="4.3" stroke-linejoin="round" stroke-linecap="round" />
<path d="M301.9,579.6 C318.2,579.7 380.4,580.4 400.0,580.4 C419.6,580.4 412.8,579.8 419.2,579.8 C425.6,579.8 432.1,579.9 438.5,580.2 C444.9,580.6 451.9,581.1 457.7,581.9 C463.5,582.7 468.6,583.9 473.1,585.0 C477.6,586.1 481.1,587.3 484.6,588.3 C488.1,589.3 492.6,590.7 494.2,591.2" fill="none" stroke="#ec0c12" stroke-width="3.9" stroke-linejoin="round" stroke-linecap="round" />
<polyline points="301.9,590.8 494.5,591.0" fill="none" stroke="#ec0c12" stroke-width="4.6" stroke-linejoin="round" stroke-linecap="round" />
<text transform="translate(300.00,441.70)" font-size="22" text-anchor="end" fill="#000" >0.2</text>
<text transform="translate(300.00,519.20)" font-size="22" text-anchor="end" fill="#000" >0.1</text>
<text transform="translate(300.00,598.00)" font-size="22" text-anchor="end" fill="#000" >0.0</text>
<text transform="translate(341.30,613.80)" font-size="22" text-anchor="middle" fill="#000" >-2</text>
<text transform="translate(418.30,613.80)" font-size="22" text-anchor="middle" fill="#000" >-1</text>
<text transform="translate(496.50,613.80)" font-size="22" text-anchor="middle" fill="#000" >0</text>
<text transform="translate(399.00,635.00)" font-size="22" text-anchor="middle" fill="#000" >V<tspan font-size="13.5" dy="7" >D</tspan><tspan font-size="22" dy="-7"> (V)</tspan></text>
<text transform="translate(310.00,436.80)" font-size="28" text-anchor="start" fill="#000" >(e)</text>
<text transform="translate(433.80,424.60)" font-size="17.8" text-anchor="start" fill="#000" >V<tspan font-size="11.5" dy="7.5" >G</tspan><tspan font-size="17.8" dy="-7.5"> =</tspan></text>
<text transform="translate(433.80,451.60)" font-size="17.8" text-anchor="start" fill="#000" >-2.5 V</text>
<line x1="456.60" y1="460.60" x2="456.60" y2="477.10" stroke="#000" stroke-width="1.6" />
<text transform="translate(453.70,496.60)" font-size="17.8" text-anchor="start" fill="#000" >0 V</text>
<text transform="translate(314.50,564.90)" font-size="22.5" text-anchor="start" fill="#000" >HfO<tspan font-size="13.5" dy="9" >2</tspan></text>
<rect x="65.5" y="650" width="193.8" height="192.70000000000005" fill="none" stroke="#000" stroke-width="1.9"/>
<line x1="162.40" y1="842.70" x2="162.40" y2="834.70" stroke="#000" stroke-width="1.5" />
<line x1="162.40" y1="650.00" x2="162.40" y2="658.00" stroke="#000" stroke-width="1.5" />
<line x1="84.88" y1="842.70" x2="84.88" y2="838.20" stroke="#000" stroke-width="1.5" />
<line x1="84.88" y1="650.00" x2="84.88" y2="654.50" stroke="#000" stroke-width="1.5" />
<line x1="104.26" y1="842.70" x2="104.26" y2="838.20" stroke="#000" stroke-width="1.5" />
<line x1="104.26" y1="650.00" x2="104.26" y2="654.50" stroke="#000" stroke-width="1.5" />
<line x1="123.64" y1="842.70" x2="123.64" y2="838.20" stroke="#000" stroke-width="1.5" />
<line x1="123.64" y1="650.00" x2="123.64" y2="654.50" stroke="#000" stroke-width="1.5" />
<line x1="143.02" y1="842.70" x2="143.02" y2="838.20" stroke="#000" stroke-width="1.5" />
<line x1="143.02" y1="650.00" x2="143.02" y2="654.50" stroke="#000" stroke-width="1.5" />
<line x1="181.78" y1="842.70" x2="181.78" y2="838.20" stroke="#000" stroke-width="1.5" />
<line x1="181.78" y1="650.00" x2="181.78" y2="654.50" stroke="#000" stroke-width="1.5" />
<line x1="201.16" y1="842.70" x2="201.16" y2="838.20" stroke="#000" stroke-width="1.5" />
<line x1="201.16" y1="650.00" x2="201.16" y2="654.50" stroke="#000" stroke-width="1.5" />
<line x1="220.54" y1="842.70" x2="220.54" y2="838.20" stroke="#000" stroke-width="1.5" />
<line x1="220.54" y1="650.00" x2="220.54" y2="654.50" stroke="#000" stroke-width="1.5" />
<line x1="239.92" y1="842.70" x2="239.92" y2="838.20" stroke="#000" stroke-width="1.5" />
<line x1="239.92" y1="650.00" x2="239.92" y2="654.50" stroke="#000" stroke-width="1.5" />
<line x1="65.50" y1="792.20" x2="73.50" y2="792.20" stroke="#000" stroke-width="1.5" />
<line x1="259.30" y1="792.20" x2="251.30" y2="792.20" stroke="#000" stroke-width="1.5" />
<line x1="65.50" y1="741.70" x2="73.50" y2="741.70" stroke="#000" stroke-width="1.5" />
<line x1="259.30" y1="741.70" x2="251.30" y2="741.70" stroke="#000" stroke-width="1.5" />
<line x1="65.50" y1="691.20" x2="73.50" y2="691.20" stroke="#000" stroke-width="1.5" />
<line x1="259.30" y1="691.20" x2="251.30" y2="691.20" stroke="#000" stroke-width="1.5" />
<line x1="65.50" y1="817.45" x2="70.00" y2="817.45" stroke="#000" stroke-width="1.2" />
<line x1="259.30" y1="817.45" x2="254.80" y2="817.45" stroke="#000" stroke-width="1.2" />
<line x1="65.50" y1="766.95" x2="70.00" y2="766.95" stroke="#000" stroke-width="1.2" />
<line x1="259.30" y1="766.95" x2="254.80" y2="766.95" stroke="#000" stroke-width="1.2" />
<line x1="65.50" y1="716.45" x2="70.00" y2="716.45" stroke="#000" stroke-width="1.2" />
<line x1="259.30" y1="716.45" x2="254.80" y2="716.45" stroke="#000" stroke-width="1.2" />
<line x1="65.50" y1="665.95" x2="70.00" y2="665.95" stroke="#000" stroke-width="1.2" />
<line x1="259.30" y1="665.95" x2="254.80" y2="665.95" stroke="#000" stroke-width="1.2" />
<clipPath id="cf"><rect x="64.5" y="650" width="195.8" height="194.20000000000005"/></clipPath>
<g clip-path="url(#cf)">
<path d="M65.4,672.1 C69.2,675.7 80.6,686.5 88.0,693.5 C95.4,700.5 103.1,707.3 110.0,714.0 C116.9,720.7 122.8,727.2 129.2,733.8 C135.6,740.4 143.4,748.2 148.5,753.5 C153.6,758.8 154.9,760.6 160.0,765.5 C165.1,770.4 172.8,777.5 179.2,783.0 C185.6,788.5 192.1,794.1 198.5,798.8 C204.9,803.5 212.9,808.1 217.7,811.3 C222.5,814.5 224.1,815.0 227.3,818.1 C230.5,821.2 234.0,826.4 236.9,829.6 C239.8,832.8 242.0,835.5 244.6,837.3 C247.2,839.1 249.9,839.8 252.3,840.6 C254.7,841.4 257.9,842.0 259.0,842.3" fill="none" stroke="#1610ee" stroke-width="3.4" stroke-linejoin="round" stroke-linecap="round" />
<path d="M65.4,672.1 C67.7,675.8 75.3,688.1 79.2,694.2 C83.1,700.3 85.6,703.5 88.8,708.5 C92.0,713.5 95.3,718.9 98.5,724.5 C101.7,730.1 105.9,738.1 108.1,742.3 C110.3,746.5 109.7,745.5 111.9,749.5 C114.1,753.5 118.6,760.3 121.5,766.0 C124.4,771.7 126.6,777.4 129.2,783.5 C131.8,789.6 134.3,796.9 136.9,802.7 C139.5,808.5 142.0,813.9 144.6,818.1 C147.2,822.3 149.7,825.1 152.3,827.7 C154.9,830.4 156.8,831.9 160.0,834.0 C163.2,836.1 167.8,838.9 171.5,840.2 C175.2,841.5 167.4,841.6 182.0,842.0 C196.6,842.4 246.2,842.2 259.0,842.3" fill="none" stroke="#1610ee" stroke-width="3.4" stroke-linejoin="round" stroke-linecap="round" />
<path d="M65.4,716.3 C68.3,718.7 77.0,725.7 83.0,730.5 C89.0,735.3 95.5,740.4 101.3,745.0 C107.1,749.6 111.8,753.3 117.7,758.0 C123.6,762.7 129.8,767.8 136.9,773.0 C144.0,778.2 152.9,784.4 160.0,789.0 C167.1,793.6 172.8,796.9 179.2,800.8 C185.6,804.7 192.1,808.6 198.5,812.3 C204.9,816.0 211.9,819.7 217.7,822.9 C223.5,826.1 228.9,828.9 233.1,831.5 C237.3,834.1 239.5,836.6 242.7,838.3 C245.8,840.0 249.3,840.8 252.0,841.5 C254.7,842.2 257.8,842.2 259.0,842.3" fill="none" stroke="#1610ee" stroke-width="3.4" stroke-linejoin="round" stroke-linecap="round" />
<path d="M65.4,716.3 C69.3,721.1 81.7,736.4 88.8,745.0 C95.9,753.6 102.3,760.7 108.1,768.1 C113.9,775.5 118.7,782.2 123.5,789.2 C128.3,796.2 133.1,804.3 136.9,810.4 C140.7,816.5 142.7,821.3 146.5,825.8 C150.3,830.3 155.2,834.6 160.0,837.3 C164.8,840.0 158.5,841.2 175.0,842.0 C191.5,842.8 245.0,842.2 259.0,842.3" fill="none" stroke="#1610ee" stroke-width="3.4" stroke-linejoin="round" stroke-linecap="round" />
<path d="M65.4,763.3 C69.3,765.5 80.1,772.1 88.8,776.7 C97.5,781.4 109.7,787.4 117.7,791.2 C125.7,795.1 129.8,796.8 136.9,799.8 C144.0,802.8 152.9,806.5 160.0,809.4 C167.1,812.3 172.8,814.5 179.2,817.1 C185.6,819.7 192.1,822.4 198.5,824.8 C204.9,827.2 211.3,829.4 217.7,831.5 C224.1,833.6 232.4,835.9 236.9,837.3 C241.4,838.6 241.8,838.8 244.6,839.6 C247.4,840.4 251.6,841.5 254.0,842.0 C256.4,842.5 258.2,842.2 259.0,842.3" fill="none" stroke="#1610ee" stroke-width="3.4" stroke-linejoin="round" stroke-linecap="round" />
<path d="M65.4,763.3 C69.3,766.2 81.7,775.0 88.8,780.6 C95.9,786.2 101.7,791.1 108.1,796.9 C114.5,802.7 121.8,810.1 127.3,815.2 C132.8,820.3 136.6,824.3 140.8,827.7 C145.0,831.1 149.1,833.5 152.3,835.4 C155.5,837.3 156.7,838.1 160.0,839.2 C163.3,840.3 155.5,841.5 172.0,842.0 C188.5,842.5 244.5,842.2 259.0,842.3" fill="none" stroke="#1610ee" stroke-width="3.4" stroke-linejoin="round" stroke-linecap="round" />
<path d="M65.4,806.5 C69.3,807.8 80.1,811.6 88.8,814.2 C97.5,816.8 109.7,819.9 117.7,821.9 C125.7,823.9 129.8,825.0 136.9,826.2 C144.0,827.5 152.9,828.2 160.0,829.4 C167.1,830.6 172.8,832.4 179.2,833.5 C185.6,834.6 192.1,835.5 198.5,836.3 C204.9,837.1 211.3,837.6 217.7,838.3 C224.1,838.9 230.8,839.6 236.9,840.2 C243.0,840.8 250.3,841.6 254.0,842.0 C257.7,842.4 258.2,842.2 259.0,842.3" fill="none" stroke="#1610ee" stroke-width="3.4" stroke-linejoin="round" stroke-linecap="round" />
<path d="M65.4,806.5 C69.3,807.9 80.1,811.8 88.8,815.0 C97.5,818.2 109.7,822.7 117.7,825.8 C125.7,828.9 130.5,831.0 136.9,833.5 C143.3,836.0 151.3,839.5 156.2,841.0 C161.0,842.5 148.9,842.1 166.0,842.3 C183.1,842.5 243.5,842.3 259.0,842.3" fill="none" stroke="#1610ee" stroke-width="3.4" stroke-linejoin="round" stroke-linecap="round" />
<path d="M65.6,678.8 C69.3,682.6 80.6,694.1 88.0,701.5 C95.4,708.9 103.1,716.4 110.0,723.2 C116.9,730.0 122.8,736.0 129.2,742.2 C135.6,748.4 143.4,755.7 148.5,760.5 C153.6,765.3 154.9,766.5 160.0,771.0 C165.1,775.5 172.8,782.3 179.2,787.5 C185.6,792.7 192.1,797.8 198.5,802.2 C204.9,806.6 212.9,810.9 217.7,814.0 C222.5,817.1 224.1,817.9 227.3,820.8 C230.5,823.7 234.0,828.6 236.9,831.5 C239.8,834.4 242.1,836.6 244.6,838.3 C247.1,840.0 249.6,840.8 252.0,841.5 C254.4,842.2 257.8,842.2 259.0,842.3" fill="none" stroke="#ec0c12" stroke-width="3.8" stroke-linejoin="round" stroke-linecap="butt" stroke-dasharray="6.5 3.5"/>
<path d="M65.6,678.8 C67.9,681.8 75.3,691.3 79.2,696.5 C83.1,701.7 85.6,705.0 88.8,709.8 C92.0,714.6 95.3,719.7 98.5,725.2 C101.7,730.7 105.9,738.7 108.1,742.8 C110.3,746.9 109.7,746.1 111.9,750.0 C114.1,753.9 118.6,760.7 121.5,766.3 C124.4,771.9 126.6,777.7 129.2,783.8 C131.8,789.9 134.3,797.1 136.9,802.9 C139.5,808.6 142.0,814.1 144.6,818.3 C147.2,822.5 149.7,825.2 152.3,827.9 C154.9,830.5 156.8,832.1 160.0,834.2 C163.2,836.3 167.8,839.1 171.5,840.4 C175.2,841.7 167.4,841.9 182.0,842.2 C196.6,842.5 246.2,842.3 259.0,842.3" fill="none" stroke="#ec0c12" stroke-width="3.8" stroke-linejoin="round" stroke-linecap="butt" stroke-dasharray="6.5 3.5"/>
</g>
<line x1="130.00" y1="717.50" x2="112.35" y2="703.02" stroke="#000" stroke-width="3.4" />
<polygon points="105.0,697.0 116.8,699.2 109.5,708.1" fill="#000"/>
<line x1="75.00" y1="698.00" x2="92.04" y2="722.23" stroke="#000" stroke-width="3.4" />
<polygon points="97.5,730.0 86.8,724.7 96.2,718.1" fill="#000"/>
<text transform="translate(56.50,848.50)" font-size="22" text-anchor="end" fill="#000" >0</text>
<text transform="translate(56.50,798.50)" font-size="22" text-anchor="end" fill="#000" >2</text>
<text transform="translate(56.50,748.50)" font-size="22" text-anchor="end" fill="#000" >4</text>
<text transform="translate(56.50,697.30)" font-size="22" text-anchor="end" fill="#000" >6</text>
<text transform="translate(65.70,862.40)" font-size="22" text-anchor="middle" fill="#000" >-50</text>
<text transform="translate(161.80,862.40)" font-size="22" text-anchor="middle" fill="#000" >0</text>
<text transform="translate(258.90,862.40)" font-size="22" text-anchor="middle" fill="#000" >50</text>
<text transform="translate(167.50,885.50)" font-size="22" text-anchor="middle" fill="#000" >V<tspan font-size="13.5" dy="7" >G</tspan><tspan font-size="22" dy="-7"> (V)</tspan></text>
<text transform="translate(21.50,734.20) rotate(-90)" font-size="22.5" text-anchor="middle" fill="#000" >-I<tspan font-size="13.5" dy="10" >D</tspan><tspan font-size="22.5" dy="-10"> (µA)</tspan></text>
<text transform="translate(77.00,678.50)" font-size="28" text-anchor="start" fill="#000" >(f)</text>
<text transform="translate(204.80,679.80)" font-size="17.8" text-anchor="start" fill="#000" >V<tspan font-size="11.5" dy="7.5" >D</tspan><tspan font-size="17.8" dy="-7.5"> =</tspan></text>
<text transform="translate(205.20,707.80)" font-size="17.8" text-anchor="start" fill="#000" >-4 V</text>
<line x1="227.20" y1="716.80" x2="227.20" y2="733.30" stroke="#000" stroke-width="1.6" />
<text transform="translate(205.20,752.30)" font-size="17.8" text-anchor="start" fill="#000" >-1 V</text>
<text transform="translate(206.50,802.00)" font-size="22.5" text-anchor="start" fill="#000" >SiO<tspan font-size="13.5" dy="9.5" >2</tspan></text>
<rect x="302.2" y="650" width="194.40000000000003" height="193.79999999999995" fill="none" stroke="#000" stroke-width="1.9"/>
<line x1="341.08" y1="843.80" x2="341.08" y2="835.80" stroke="#000" stroke-width="1.5" />
<line x1="341.08" y1="650.00" x2="341.08" y2="658.00" stroke="#000" stroke-width="1.5" />
<line x1="418.84" y1="843.80" x2="418.84" y2="835.80" stroke="#000" stroke-width="1.5" />
<line x1="418.84" y1="650.00" x2="418.84" y2="658.00" stroke="#000" stroke-width="1.5" />
<line x1="379.96" y1="843.80" x2="379.96" y2="839.30" stroke="#000" stroke-width="1.5" />
<line x1="379.96" y1="650.00" x2="379.96" y2="654.50" stroke="#000" stroke-width="1.5" />
<line x1="457.72" y1="843.80" x2="457.72" y2="839.30" stroke="#000" stroke-width="1.5" />
<line x1="457.72" y1="650.00" x2="457.72" y2="654.50" stroke="#000" stroke-width="1.5" />
<line x1="302.20" y1="781.00" x2="310.20" y2="781.00" stroke="#000" stroke-width="1.5" />
<line x1="496.60" y1="781.00" x2="488.60" y2="781.00" stroke="#000" stroke-width="1.5" />
<line x1="302.20" y1="718.30" x2="310.20" y2="718.30" stroke="#000" stroke-width="1.5" />
<line x1="496.60" y1="718.30" x2="488.60" y2="718.30" stroke="#000" stroke-width="1.5" />
<line x1="302.20" y1="655.60" x2="310.20" y2="655.60" stroke="#000" stroke-width="1.5" />
<line x1="496.60" y1="655.60" x2="488.60" y2="655.60" stroke="#000" stroke-width="1.5" />
<line x1="302.20" y1="812.35" x2="306.70" y2="812.35" stroke="#000" stroke-width="1.2" />
<line x1="496.60" y1="812.35" x2="492.10" y2="812.35" stroke="#000" stroke-width="1.2" />
<line x1="302.20" y1="749.65" x2="306.70" y2="749.65" stroke="#000" stroke-width="1.2" />
<line x1="496.60" y1="749.65" x2="492.10" y2="749.65" stroke="#000" stroke-width="1.2" />
<line x1="302.20" y1="686.95" x2="306.70" y2="686.95" stroke="#000" stroke-width="1.2" />
<line x1="496.60" y1="686.95" x2="492.10" y2="686.95" stroke="#000" stroke-width="1.2" />
<path d="M302.2,677.5 C308.7,681.7 328.1,693.4 341.1,702.6 C354.0,711.8 367.0,721.9 380.0,732.7 C392.9,743.6 405.9,755.6 418.8,767.8 C431.8,780.1 444.8,793.7 457.7,806.4 C470.7,819.0 490.1,837.5 496.6,843.7" fill="none" stroke="#1610ee" stroke-width="5.4" stroke-linejoin="round" stroke-linecap="round" />
<path d="M302.2,725.8 C308.7,728.3 328.1,734.9 341.1,740.9 C354.0,746.8 367.0,753.9 380.0,761.6 C392.9,769.2 405.9,778.0 418.8,786.6 C431.8,795.3 444.8,804.1 457.7,813.6 C470.7,823.1 490.1,838.7 496.6,843.7" fill="none" stroke="#1610ee" stroke-width="5.4" stroke-linejoin="round" stroke-linecap="round" />
<path d="M302.2,773.5 C308.7,774.8 328.1,778.1 341.1,781.3 C354.0,784.6 367.0,788.7 380.0,792.9 C392.9,797.1 405.9,801.5 418.8,806.7 C431.8,811.9 444.8,817.8 457.7,823.9 C470.7,830.1 490.1,840.4 496.6,843.7" fill="none" stroke="#1610ee" stroke-width="5.4" stroke-linejoin="round" stroke-linecap="round" />
<path d="M302.2,827.4 C308.7,827.6 328.1,828.0 341.1,828.7 C354.0,829.3 367.0,830.1 380.0,831.2 C392.9,832.2 405.9,833.7 418.8,834.9 C431.8,836.2 444.8,837.2 457.7,838.7 C470.7,840.1 490.1,842.9 496.6,843.7" fill="none" stroke="#1610ee" stroke-width="4.4" stroke-linejoin="round" stroke-linecap="round" />
<polyline points="302.2,843.7 341.1,843.7 380.0,843.7 418.8,843.7 457.7,843.7 496.6,843.7" fill="none" stroke="#1610ee" stroke-width="3.8" stroke-linejoin="round" stroke-linecap="round" />
<text transform="translate(300.00,848.50)" font-size="22" text-anchor="end" fill="#000" >0</text>
<text transform="translate(300.00,787.50)" font-size="22" text-anchor="end" fill="#000" >10</text>
<text transform="translate(300.00,724.80)" font-size="22" text-anchor="end" fill="#000" >20</text>
<text transform="translate(300.00,661.60)" font-size="22" text-anchor="end" fill="#000" >30</text>
<text transform="translate(340.00,862.00)" font-size="22" text-anchor="middle" fill="#000" >-20</text>
<text transform="translate(418.00,862.00)" font-size="22" text-anchor="middle" fill="#000" >-10</text>
<text transform="translate(496.20,862.00)" font-size="22" text-anchor="middle" fill="#000" >0</text>
<text transform="translate(399.00,884.00)" font-size="22" text-anchor="middle" fill="#000" >V<tspan font-size="13.5" dy="7" >D</tspan><tspan font-size="22" dy="-7"> (V)</tspan></text>
<text transform="translate(316.50,680.60)" font-size="28" text-anchor="start" fill="#000" >(g)</text>
<text transform="translate(432.60,682.70)" font-size="17.8" text-anchor="start" fill="#000" >V<tspan font-size="11.5" dy="7.5" >G</tspan><tspan font-size="17.8" dy="-7.5"> =</tspan></text>
<text transform="translate(432.60,710.70)" font-size="17.8" text-anchor="start" fill="#000" >-40 V</text>
<line x1="455.00" y1="719.70" x2="455.00" y2="736.20" stroke="#000" stroke-width="1.6" />
<text transform="translate(441.80,755.00)" font-size="17.8" text-anchor="start" fill="#000" >40 V</text>
<text transform="translate(308.50,802.30)" font-size="22.5" text-anchor="start" fill="#000" >SiO<tspan font-size="13.5" dy="9.5" >2</tspan></text>
</svg>
</body></html>
